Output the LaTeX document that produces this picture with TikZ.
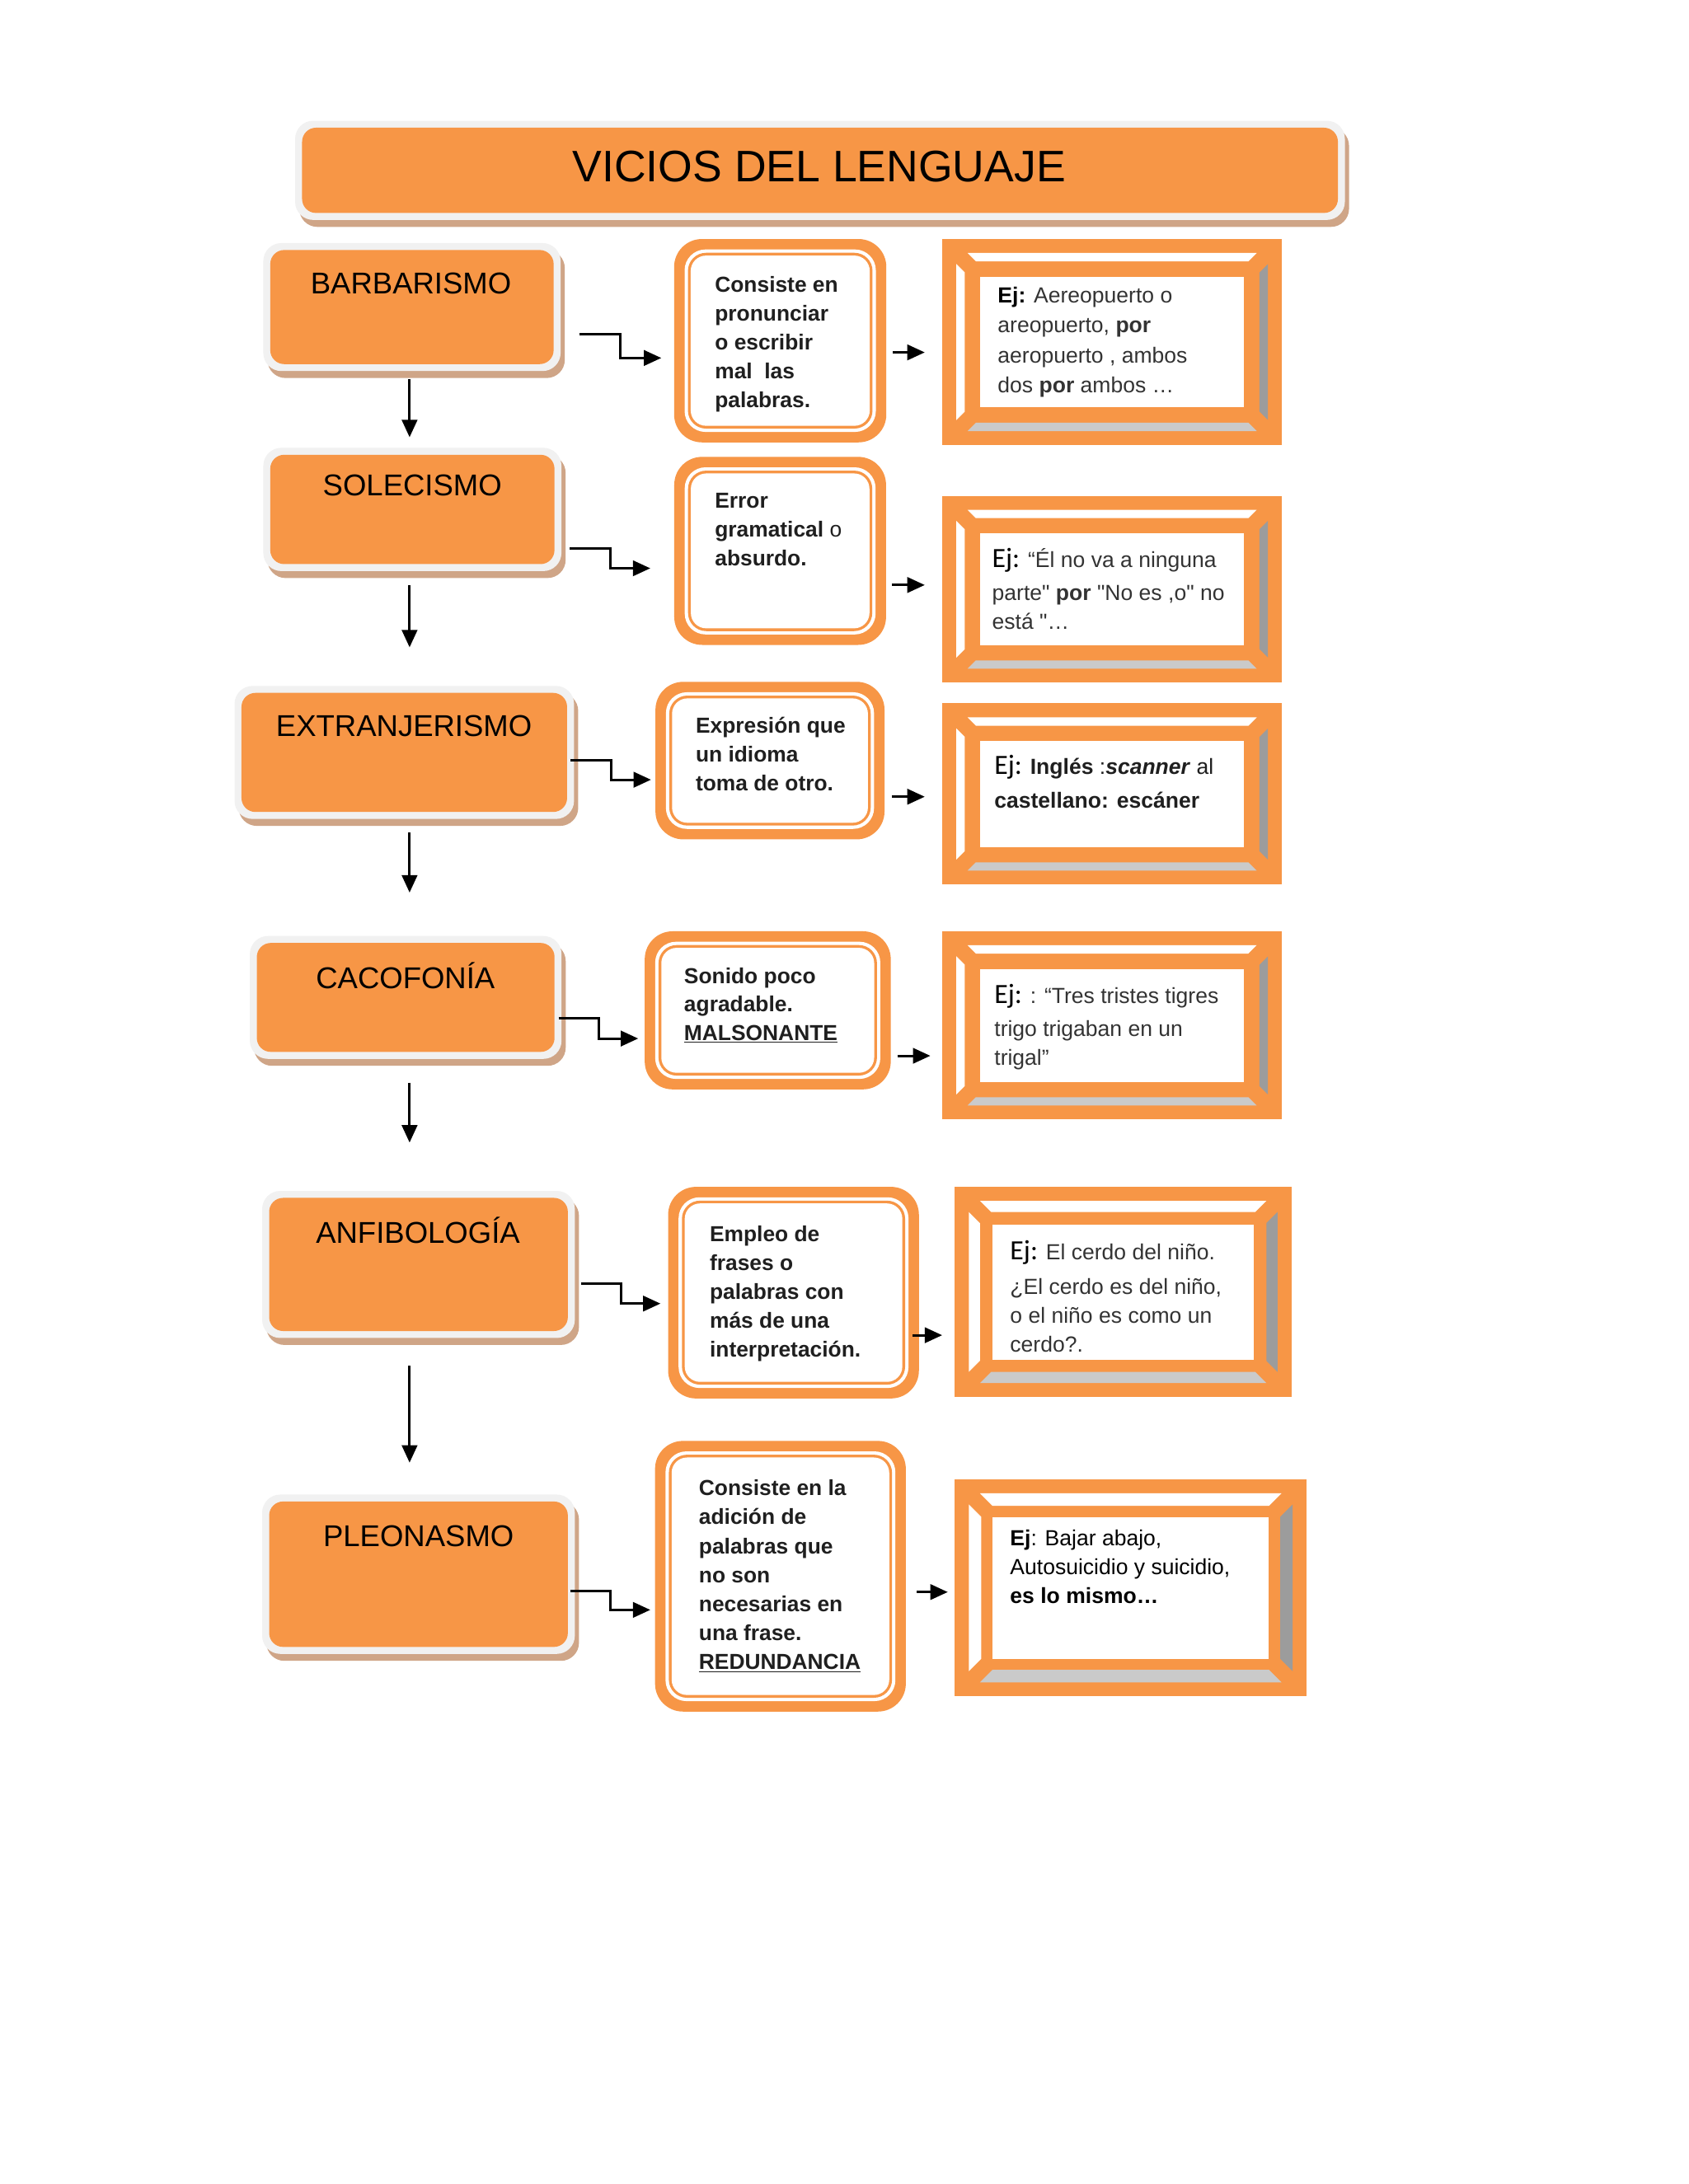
\documentclass[tikz,border=0pt]{standalone}
\usepackage{fontspec}
\setmainfont{Liberation Sans}[Ligatures=TeXOff]
\newfontfamily\calib{Carlito}
\usetikzlibrary{arrows.meta}
\definecolor{orng}{HTML}{F79646}
\definecolor{frm}{HTML}{F1F1F1}
\definecolor{shd}{HTML}{CFA587}
\definecolor{gface}{HTML}{9C9C9C}
\definecolor{lface}{HTML}{CACACA}
\definecolor{txt}{HTML}{333333}
\definecolor{btxt}{HTML}{1F1F1F}
\tikzset{
  orangebox/.style={rectangle, fill=orng, rounded corners=10pt, inner sep=0pt, draw=none},
  wboxo/.style={rectangle, fill=orng, rounded corners=20pt, inner sep=0pt, draw=none},
  eboxo/.style={rectangle, fill=orng, inner sep=0pt, draw=none},
  arr/.style={line width=1.8pt, -{Triangle[length=12.5pt,width=11pt]}},
  headtxt/.style={anchor=base, inner sep=0pt, font=\fontsize{21.6pt}{26pt}\selectfont},
  boxtxt/.style={anchor=north west, inner sep=0pt, align=left, text=btxt, font=\fontsize{15.6pt}{20.7pt}\selectfont\bfseries},
  extxt/.style={anchor=north west, inner sep=0pt, align=left, text=txt, font=\fontsize{15.7pt}{20.7pt}\selectfont},
}
\newcommand\tstrut{\rule{0pt}{20pt}}
\newcommand\EJ{{\calib\fontsize{20pt}{20pt}\selectfont\textcolor{black}{Ej:}}}
% heading box: name, cx, cy, w, h (orange part)
\newcommand\HeadBox[5]{%
  \fill[shd, rounded corners=13pt] ({#2-#4/2-5+3},{#3-#5/2-5+5}) rectangle ({#2+#4/2+5+3},{#3+#5/2+5+5});
  \fill[frm, rounded corners=13pt] ({#2-#4/2-5},{#3-#5/2-5}) rectangle ({#2+#4/2+5},{#3+#5/2+5});
  \node[orangebox, minimum width=#4pt, minimum height=#5pt] (#1) at (#2,#3) {};
}
% white rounded box: name, cx, cy, w, h
\newcommand\WBox[5]{%
  \node[wboxo, minimum width=#4pt, minimum height=#5pt] (#1) at (#2,#3) {};
  \fill[white, rounded corners=15pt] ({#2-#4/2+7.5},{#3-#5/2+7.5}) rectangle ({#2+#4/2-7.5},{#3+#5/2-7.5});
  \fill[orng, rounded corners=13pt] ({#2-#4/2+9.9},{#3-#5/2+9.9}) rectangle ({#2+#4/2-9.9},{#3+#5/2-9.9});
  \fill[white, rounded corners=11pt] ({#2-#4/2+11.9},{#3-#5/2+11.9}) rectangle ({#2+#4/2-11.9},{#3+#5/2-11.9});
}
% bevel frame: name, cx, cy, w, h, face width
\newcommand\EBox[6]{%
  \node[eboxo, minimum width=#4pt, minimum height=#5pt] (#1) at (#2,#3) {};
  \pgfmathsetmacro\exA{#2-#4/2}\pgfmathsetmacro\exB{#2+#4/2}%
  \pgfmathsetmacro\eyA{#3-#5/2}\pgfmathsetmacro\eyB{#3+#5/2}%
  \fill[white] ({\exA+18},{\eyA+10}) -- ({\exB-18},{\eyA+10}) -- ({\exB-18-#6},{\eyA+10+#6}) -- ({\exA+18+#6},{\eyA+10+#6}) -- cycle;
  \fill[white] ({\exA+10},{\eyA+18}) -- ({\exA+10+#6},{\eyA+18+#6}) -- ({\exA+10+#6},{\eyB-18-#6}) -- ({\exA+10},{\eyB-18}) -- cycle;
  \fill[gface] ({\exB-10},{\eyA+18}) -- ({\exB-10},{\eyB-18}) -- ({\exB-10-#6},{\eyB-18-#6}) -- ({\exB-10-#6},{\eyA+18+#6}) -- cycle;
  \fill[lface] ({\exA+18},{\eyB-10}) -- ({\exB-18},{\eyB-10}) -- ({\exB-18-#6},{\eyB-10-#6}) -- ({\exA+18+#6},{\eyB-10-#6}) -- cycle;
  \fill[white] ({\exA+27},{\eyA+27}) rectangle ({\exB-27},{\eyB-27});
}
\begin{document}
\begin{tikzpicture}[x=1pt, y=-1pt]
\fill[white] (0,0) rectangle (1212,1568);
\useasboundingbox (0,0) rectangle (1212,1568);

% title
\HeadBox{tbox}{588.6}{122.3}{743.5}{61.2}
\node[anchor=base, inner sep=0pt, font=\fontsize{31.7pt}{38pt}\selectfont] (ttl) at (588,130.2) {VICIOS DEL LENGUAJE};

% headings
\HeadBox{b1}{295.7}{220.45}{203.4}{81.9}
\HeadBox{b2}{296}{365.75}{204}{78.5}
\HeadBox{b3}{290.2}{540.2}{233.7}{85.5}
\HeadBox{b4}{291.2}{716.1}{213.7}{78.2}
\HeadBox{b5}{300.4}{907.8}{214.4}{95.6}
\HeadBox{b6}{300.4}{1130.2}{214.4}{104.4}
\node[headtxt] (h1) at (295,210.8) {BARBARISMO};
\node[headtxt] (h2) at (296,355.7) {SOLECISMO};
\node[headtxt] (h3) at (290,528.4) {EXTRANJERISMO};
\node[headtxt] (h4) at (291,709.5) {CACOFONÍA};
\node[headtxt] (h5) at (300,892.3) {ANFIBOLOGÍA};
\node[headtxt] (h6) at (300.4,1110.3) {PLEONASMO};

% definition boxes
\WBox{w1}{560.05}{244.6}{152.3}{146}
\WBox{w2}{560}{395.5}{152}{135}
\WBox{w3}{552.7}{546.05}{164.4}{113.1}
\WBox{w4}{551.1}{725.35}{176.6}{113.5}
\WBox{w5}{569.6}{928.05}{180}{151.9}
\WBox{w6}{560.2}{1131.65}{180}{194.3}
\node[boxtxt] (t1) at (513,189.7) {\tstrut Consiste en\\pronunciar\\o escribir\\mal\ \ las\\palabras.};
\node[boxtxt] (t2) at (513,344.6) {\tstrut Error\\gramatical {\mdseries o}\\absurdo.};
\node[boxtxt] (t3) at (499.2,506.3) {\tstrut Expresión que\\un idioma\\toma de otro.};
\node[boxtxt, font=\fontsize{15.6pt}{20.4pt}\selectfont\bfseries] (t4) at (490.9,685.8) {\tstrut Sonido poco\\agradable.\\\underline{MALSONANTE}};
\node[boxtxt] (t5) at (509.3,871.2) {\tstrut Empleo de\\frases o\\palabras con\\más de una\\interpretación.};
\node[boxtxt, font=\fontsize{15.6pt}{20.8pt}\selectfont\bfseries] (t6) at (501.5,1053.6) {\tstrut Consiste en la\\adición de\\palabras que\\no son\\necesarias en\\una frase.\\\underline{REDUNDANCIA}};

% example frames
\EBox{e1}{798.3}{245.55}{243.6}{147.9}{6}
\EBox{e2}{798.3}{423.05}{243.6}{134.1}{6}
\EBox{e3}{798.3}{570.05}{243.6}{130.1}{6}
\EBox{e4}{798.3}{736.15}{243.6}{135.1}{6}
\EBox{e5}{806.2}{927.55}{241.6}{150.9}{8}
\EBox{e6}{811.65}{1140}{252.5}{155.8}{9}
\node[extxt, font=\fontsize{15.7pt}{21.6pt}\selectfont] (x1) at (716,197.2) {\tstrut\textcolor{black}{\textbf{Ej:}} Aereopuerto o\\areopuerto, \textbf{por}\\aeropuerto , ambos\\dos \textbf{por} ambos …};
\node[extxt] (x2) at (712,387.3) {\tstrut\EJ{} “Él no va a ninguna\\[3pt]parte" \textbf{por} "No es ,o" no\\está "…};
\node[extxt, text=btxt, font=\fontsize{15.7pt}{24.3pt}\selectfont] (x3) at (713.6,535.6) {\tstrut\EJ{} \textbf{Inglés} :\textbf{\textit{scanner}} al\\\textbf{castellano: escáner}};
\node[extxt] (x4) at (713.6,699.9) {\tstrut\EJ{} : “Tres tristes tigres\\[3pt]trigo trigaban en un\\trigal”};
\node[extxt] (x5) at (724.9,884.3) {\tstrut\EJ{} El cerdo del niño.\\[4pt]¿El cerdo es del niño,\\o el niño es como un\\cerdo?.};
\node[extxt, text=black] (x6) at (724.9,1089.5) {\tstrut\textbf{Ej}: Bajar abajo,\\Autosuicidio y suicidio,\\\textbf{es lo mismo…}};

% step connectors heading -> definition
\coordinate (s1) at (415.9,240.2); \coordinate (l1) at (0,257);
\coordinate (s2) at (409,394);     \coordinate (l2) at (0,408);
\coordinate (s3) at (409.5,546);   \coordinate (l3) at (0,559.8);
\coordinate (s4) at (401,730.8);   \coordinate (l4) at (0,745.6);
\coordinate (s5) at (417,921.7);   \coordinate (l5) at (0,935.9);
\coordinate (s6) at (409.2,1142);  \coordinate (l6) at (0,1155.8);
\draw[arr, shorten >=9pt] (s1) -- ++(29.6,0) |- (w1.west |- l1);
\draw[arr, shorten >=17pt] (s2) -- ++(29,0) |- (w2.west |- l2);
\draw[arr, shorten >=3pt] (s3) -- ++(29.3,0) |- (w3.west |- l3);
\draw[arr, shorten >=4.5pt] (s4) -- ++(28.6,0) |- (w4.west |- l4);
\draw[arr, shorten >=5.3pt] (s5) -- ++(29.1,0) |- (w5.west |- l5);
\draw[arr, shorten >=3.2pt] (s6) -- ++(29.1,0) |- (w6.west |- l6);

% arrows definition -> example
\coordinate (r1) at (0,253);
\coordinate (r2) at (0,420);
\coordinate (r3) at (0,572);
\coordinate (r4) at (0,758);
\coordinate (r5) at (0,958.6);
\coordinate (r6) at (0,1143);
\draw[arr, shorten <=4.6pt, shorten >=12.5pt] (w1.east |- r1) -- (e1.west |- r1);
\draw[arr, shorten <=4pt, shorten >=12.5pt] (w2.east |- r2) -- (e2.west |- r2);
\draw[arr, shorten <=5pt, shorten >=12.5pt] (w3.east |- r3) -- (e3.west |- r3);
\draw[arr, shorten <=4.6pt, shorten >=8.5pt] (w4.east |- r4) -- (e4.west |- r4);
\draw[arr, shorten <=-4.7pt, shorten >=8.9pt] (w5.east |- r5) -- (e5.west |- r5);
\draw[arr, shorten <=7.8pt, shorten >=4.9pt] (w6.east |- r6) -- (e6.west |- r6);

% vertical arrows between headings
\coordinate (dx) at (294,0);
\draw[arr, shorten <=10.8pt, shorten >=12.4pt] (b1.south -| dx) -- (b2.north -| dx);
\draw[arr, shorten <=15pt, shorten >=32.5pt] (b2.south -| dx) -- (b3.north -| dx);
\draw[arr, shorten <=14.6pt, shorten >=36pt] (b3.south -| dx) -- (b4.north -| dx);
\draw[arr, shorten <=21.9pt, shorten >=39.5pt] (b4.south -| dx) -- (b5.north -| dx);
\draw[arr, shorten <=24.7pt, shorten >=27.7pt] (b5.south -| dx) -- (b6.north -| dx);
\end{tikzpicture}
\end{document}
